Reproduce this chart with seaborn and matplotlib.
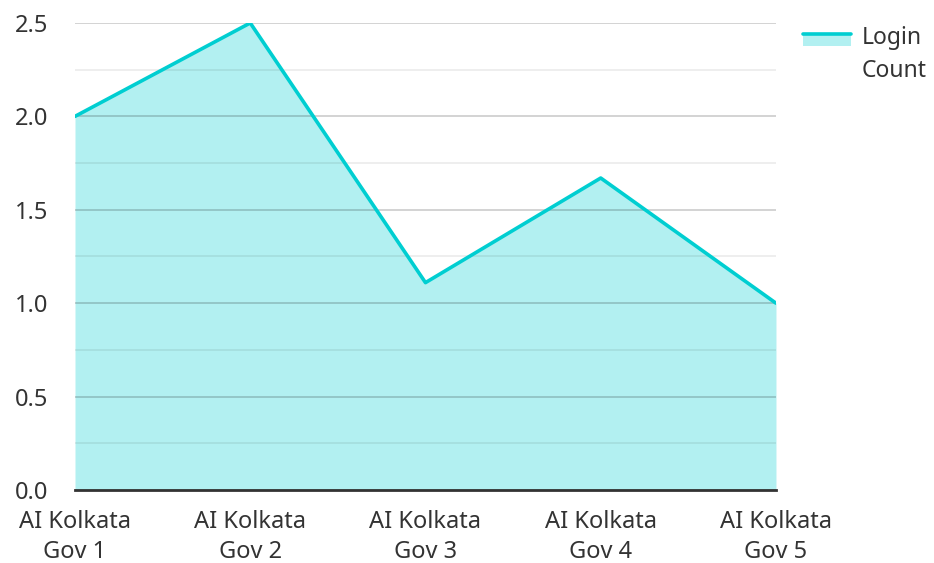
import matplotlib
matplotlib.use("Agg")
import matplotlib.pyplot as plt
from matplotlib.lines import Line2D
from matplotlib.patches import Patch, Rectangle
from matplotlib.legend_handler import HandlerBase
from matplotlib.ticker import MultipleLocator, FormatStrFormatter
import pandas as pd
import seaborn as sns

categories = ["AI Kolkata\nGov 1", "AI Kolkata\nGov 2", "AI Kolkata\nGov 3",
              "AI Kolkata\nGov 4", "AI Kolkata\nGov 5"]
login_count = [2.0, 2.5, 1.11, 1.67, 1.0]
series_name = "Login\nCount"

lineColor = "#00CED1"
fillColor = "#B2F0F1"
textColor = "#333333"


class AreaHandler(HandlerBase):
    # line on top with the fill underneath, like the original legend swatch
    def create_artists(self, legend, orig_handle, xdescent, ydescent, width, height, fontsize, trans):
        top = height + 0.7 * fontsize
        rect = Rectangle((-xdescent, top - 0.5 * fontsize), width, 0.5 * fontsize,
                         facecolor=fillColor, edgecolor="none", transform=trans)
        line = Line2D([-xdescent, -xdescent + width], [top, top], color=lineColor,
                      linewidth=2.6, transform=trans)
        return [rect, line]


sns.set_style("white")
plt.rcParams["font.family"] = ["Noto Sans", "DejaVu Sans"]

df = pd.DataFrame({"gov": categories, "count": login_count})
df["pos"] = range(len(df))

fig = plt.figure(figsize=(9.34, 5.63), dpi=100)
ax = fig.add_axes([0.0803, 0.1297, 0.7505, 0.8295])

ax.fill_between(df["pos"], 0, df["count"], color=fillColor, linewidth=0, zorder=1)
sns.lineplot(data=df, x="pos", y="count", color=lineColor, linewidth=2.6, ax=ax, zorder=3)

ax.set_xlim(0, len(categories) - 1)
ax.set_ylim(0, 2.5)
ax.set_xticks(df["pos"])
ax.set_xticklabels(categories, linespacing=1.3)
ax.yaxis.set_major_locator(MultipleLocator(0.5))
ax.yaxis.set_minor_locator(MultipleLocator(0.25))
ax.yaxis.set_major_formatter(FormatStrFormatter("%.1f"))
ax.grid(axis="y", which="major", color="black", alpha=0.2, linewidth=1.2, zorder=2)
ax.grid(axis="y", which="minor", color="black", alpha=0.08, linewidth=1.2, zorder=2)
ax.set_axisbelow(False)
ax.tick_params(axis="both", which="both", length=0, labelsize=17, labelcolor=textColor)
ax.tick_params(axis="x", pad=14.5)
ax.tick_params(axis="y", pad=19)
ax.set_xlabel("")
ax.set_ylabel("")
for s in ["left", "right", "top"]:
    ax.spines[s].set_visible(False)
ax.spines["bottom"].set_color(textColor)
ax.spines["bottom"].set_linewidth(2)
ax.spines["bottom"].set_zorder(4)

handle = Patch(facecolor=fillColor)
leg = fig.legend([handle], [series_name], handler_map={Patch: AreaHandler()},
                 loc="upper left", bbox_to_anchor=(0.86, 0.953),
                 frameon=False, fontsize=16.5, labelcolor=textColor, handlelength=2.1,
                 handleheight=0.5, handletextpad=0.45, borderaxespad=0, borderpad=0)
for t in leg.get_texts():
    t.set_linespacing(1.45)

fig.savefig("out.png", dpi=100)
